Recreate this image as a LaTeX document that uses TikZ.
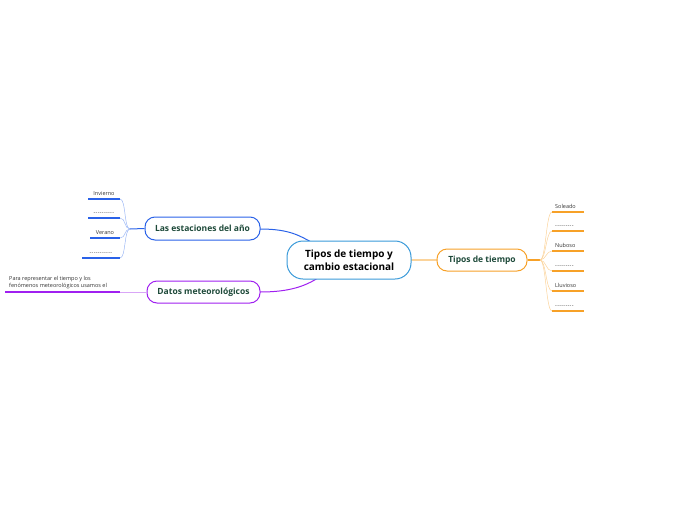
\documentclass[tikz,border=0pt]{standalone}
\usepackage{fontspec}
\setmainfont{Open Sans}
\newcommand\mydashes[1]{\foreach\i in {1,...,#1}{-\kern0.3pt}}
\begin{document}
\begin{tikzpicture}[x=1pt,y=-1pt,
  topic/.style={draw=#1,line width=1pt,rounded corners=10pt,fill=white,text=tdark,font=\bfseries\fontsize{8.5}{9}\selectfont,inner sep=0pt},
  leaf/.style={font=\fontsize{5.5}{6.5}\selectfont,text=black!80,inner sep=0pt,anchor=south},
  uline/.style={line width=1.2pt,draw=#1},
  br/.style={line width=0.5pt,draw=#1}]
\definecolor{tdark}{HTML}{1E4A3A}
\definecolor{cblue}{HTML}{3A9AD9}
\definecolor{eblue}{HTML}{2A62E8}
\definecolor{lblue}{HTML}{9DB8F5}
\definecolor{pur}{HTML}{A020F0}
\definecolor{lpur}{HTML}{D9A6F7}
\definecolor{ora}{HTML}{F7A128}
\definecolor{lora}{HTML}{FBD39A}
\useasboundingbox (0,0) rectangle (697,520);
\coordinate (ce1) at (313,243);
\coordinate (ce2) at (318,278);
\draw[eblue,line width=1pt] (260,229) .. controls (290,229) and (300,236) .. (ce1);
\draw[pur,line width=1pt] (260,292) .. controls (290,292) and (305,286) .. (ce2);
\draw[lora,line width=1.5pt] (411,260) -- (437,260);
\node[topic=cblue,minimum width=124pt,minimum height=38pt,rounded corners=16pt,font=\bfseries\fontsize{10}{12.5}\selectfont,align=center,text=black] (c) at (349,260) {Tipos de tiempo y\\cambio estacional};
\node[topic=eblue,minimum width=115pt,minimum height=23pt] (e) at (202.5,228.5) {Las estaciones del año};
\node[topic=pur,minimum width=113pt,minimum height=22pt] (d) at (203.5,292) {Datos meteorológicos};
\node[topic=ora,minimum width=90pt,minimum height=22pt] (t) at (482,260) {Tipos de tiempo};
\coordinate (ej) at (130,229);
\draw[eblue,line width=1pt] (e.west) -- (ej);
\foreach \y/\xa/\txt/\n in {199/88/Invierno/a,218/88/{\mydashes{10}}/b,238/90/Verano/c,258/82/{\mydashes{11}}/d}{
  \coordinate (l\n) at (120,\y);
  \draw[br=lblue] (ej) .. controls (124,229) and (126,\y) .. (l\n);
  \draw[uline=eblue] (\xa,\y) -- (l\n);
  \node[leaf] at ({(\xa+120)/2},\y-3) {\txt};
}
\coordinate (dl) at (120,292);
\draw[lpur,line width=1pt] (d.west) -- (dl);
\draw[uline=pur] (5,292) -- (dl);
\node[leaf,anchor=south west,align=left] at (9,289) {Para representar el tiempo y los\\fenómenos meteorológicos usamos el};
\coordinate (tj) at (540,260);
\draw[ora,line width=1.5pt] (t.east) -- (tj);
\foreach \y/\txt/\n in {212/Soleado/a,231/{\mydashes{9}}/b,251/Nuboso/c,271/{\mydashes{9}}/d,291/Lluvioso/e,311/{\mydashes{9}}/f}{
  \coordinate (r\n) at (552,\y);
  \draw[br=lora] (tj) .. controls (546,260) and (546,\y) .. (r\n);
  \draw[uline=ora] (r\n) -- (584,\y);
  \node[leaf,anchor=south west] at (555,\y-3) {\txt};
}
\end{tikzpicture}
\end{document}
